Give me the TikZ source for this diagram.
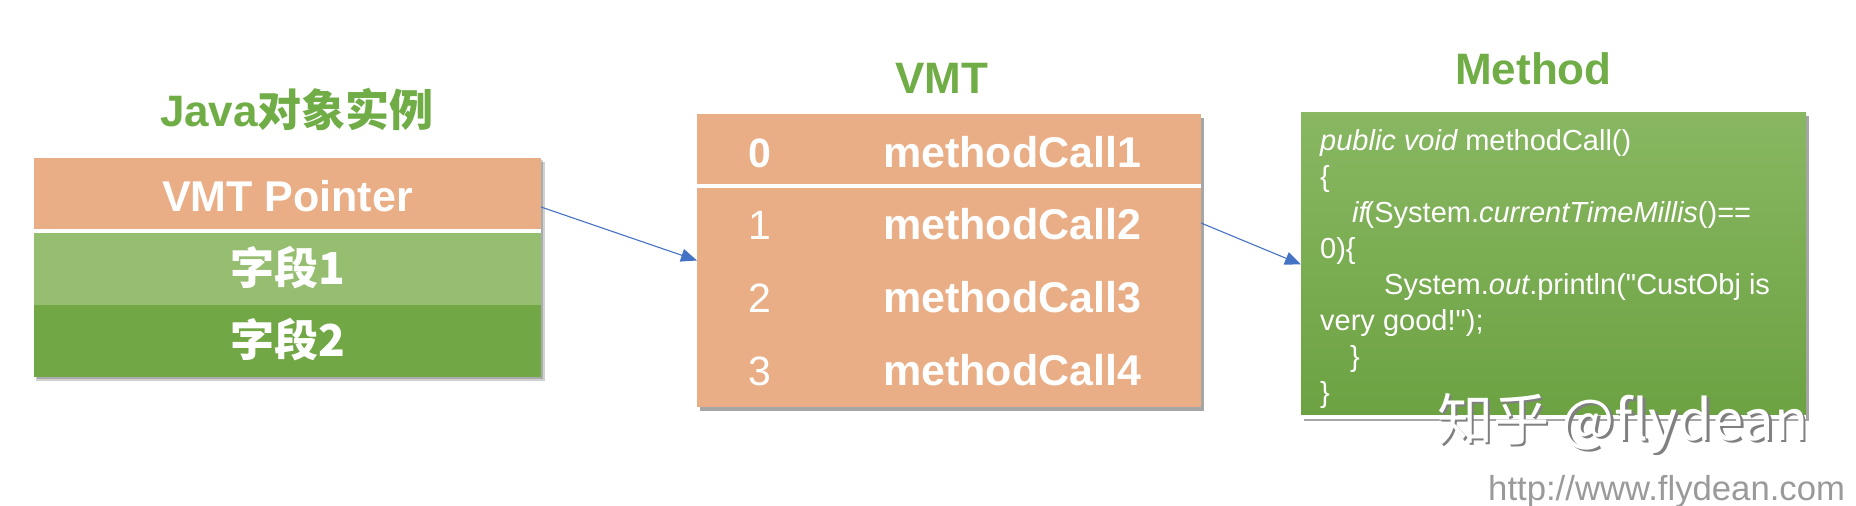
\documentclass[tikz,border=0pt]{standalone}
\usepackage{fontspec}
\setmainfont{Liberation Sans}
\newfontfamily\codefont{Liberation Sans}
\newfontfamily\cjk{Noto Sans CJK SC}
\usetikzlibrary{arrows.meta,shadows}
\definecolor{ora}{HTML}{EAAE86}
\definecolor{lgr}{HTML}{96BE70}
\definecolor{dgr}{HTML}{72A746}
\definecolor{ttl}{HTML}{70AD47}
\definecolor{arr}{HTML}{4472C4}
\definecolor{mtop}{HTML}{89B762}
\definecolor{mbot}{HTML}{6CA242}
\definecolor{wmgray}{HTML}{9A9A9A}
\begin{document}
\begin{tikzpicture}[x=1pt,y=-1pt,
  cell/.style={rectangle, inner sep=0pt, outer sep=0pt, minimum width=507pt},
  bigbox/.style={rectangle, inner sep=0pt, outer sep=0pt,
    drop shadow={shadow xshift=3pt, shadow yshift=-4pt, opacity=0.35, fill=black}},
  ttlstyle/.style={text=ttl, inner sep=0pt, font=\bfseries\fontsize{44}{50}\selectfont},
  celltext/.style={text=white, inner sep=0pt, font=\bfseries\fontsize{43}{50}\selectfont},
  cjktext/.style={text=white, inner sep=0pt, font=\cjk\bfseries\fontsize{44}{50}\selectfont},
  idx/.style={text=white, inner sep=0pt, font=\fontsize{41}{50}\selectfont},
  code/.style={text=white, inner sep=0pt, anchor=base west, font=\codefont\fontsize{29}{36}\selectfont},
  conn/.style={draw=arr, line width=1.1pt, -{Triangle[length=16pt,width=13pt]}}
]
\useasboundingbox (0,0) rectangle (1856,506);

% ---------- titles
\node[ttlstyle, anchor=base] (tobj) at (297,126) {Java{\cjk 对象实例}};
\node[ttlstyle, anchor=base] (tvmt) at (941.5,93) {VMT};
\node[ttlstyle, anchor=base] (tmeth) at (1533.5,84) {Method};

% ---------- object instance
\fill[black, opacity=0.18] (36,162) rectangle (545,381);
\fill[black, opacity=0.18] (37,160) rectangle (543,379);
\node[cell, fill=ora, minimum height=73pt] (ptr) at (287.5,194.5) {};
\node[cell, fill=lgr, minimum height=74pt] (f1) at (287.5,268) {};
\node[cell, fill=dgr, minimum height=72pt] (f2) at (287.5,341) {};
\draw[white, line width=4pt] (ptr.south west) -- (ptr.south east);
\node[celltext, anchor=base] (ptrt) at (287.5,211) {VMT Pointer};
\node[cjktext] (f1t) at (287.5,268) {字段1};
\node[cjktext] (f2t) at (287.5,340) {字段2};

% ---------- VMT
\node[bigbox, fill=ora, minimum width=504pt, minimum height=293pt] (vmt) at (949,260.5) {};
\draw[white, line width=4pt] ([yshift=-72pt]vmt.north west) -- ([yshift=-72pt]vmt.north east);
\node[idx, anchor=base, font=\bfseries\fontsize{41}{50}\selectfont] (d0) at (760,167) {0};
\node[idx, anchor=base] (d1) at (760,239) {1};
\node[idx, anchor=base] (d2) at (760,312) {2};
\node[idx, anchor=base] (d3) at (760,385) {3};
\node[celltext, anchor=base west] (m0) at (883,167) {methodCall1};
\node[celltext, anchor=base west] (m1) at (883,239) {methodCall2};
\node[celltext, anchor=base west] (m2) at (883,312) {methodCall3};
\node[celltext, anchor=base west] (m3) at (883,385) {methodCall4};

% ---------- Method
\node[bigbox, top color=mtop, bottom color=mbot, minimum width=505pt, minimum height=305pt] (meth) at (1553.5,264.5) {};
\node[code] (c1) at (1320,150) {\itshape public void\upshape{} methodCall()};
\node[code] (c2) at (1320,186) {\{};
\node[code] (c3) at (1352,222) {{\itshape if}\kern-2pt(System.{\itshape currentTimeMillis}()==};
\node[code] (c4) at (1320,258) {0)\{};
\node[code] (c5) at (1384,294) {System.{\itshape out}.println("CustObj is};
\node[code] (c6) at (1320,330) {very good!");};
\node[code] (c7) at (1350,366) {\}};
\node[code] (c8) at (1320,402) {\}};
\draw[white, line width=3.5pt] (meth.south west) -- (meth.south east);

% ---------- connectors
\draw[conn] ([yshift=-12.5pt]ptr.east) -- (vmt.west);
\draw[conn] ([yshift=37.5pt]vmt.east) -- (meth.west);

% ---------- watermark
\node[anchor=base west, inner sep=0pt, text=black!50, font=\cjk\fontsize{56}{60}\selectfont] (wms) at (1439.5,442.5) {知乎 @flydean};
\node[anchor=base west, inner sep=0pt, text=white, font=\cjk\fontsize{56}{60}\selectfont] (wm) at (1437,440) {知乎 @flydean};
\node[anchor=base west, inner sep=0pt, text=wmgray, font=\fontsize{34.7}{40}\selectfont] (url) at (1488,500) {http://www.flydean.com};
\end{tikzpicture}
\end{document}
